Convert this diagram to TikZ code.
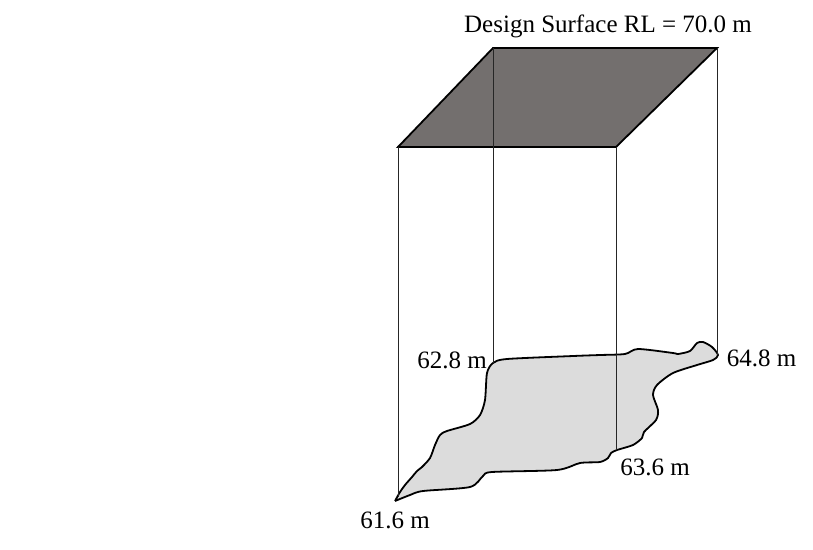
\documentclass[tikz,border=0pt]{standalone}
\usepackage{fontspec}
\setmainfont{Liberation Serif}
\definecolor{surfacegray}{HTML}{736F6E}
\definecolor{groundgray}{HTML}{DCDCDC}
\tikzset{
    level/.style = {font=\fontsize{25}{28}\selectfont, inner sep=0pt},
    corner/.style = {line width=1pt, black!85}
}

\begin{document}
\begin{tikzpicture}[x = 1pt, y = -1pt]
    \useasboundingbox (0,0) rectangle (813,549);
    % design surface
    \coordinate (sa) at (398,147);
    \coordinate (sb) at (616,147);
    \coordinate (sc) at (717,48);
    \coordinate (sd) at (493,48);
    % ground corners
    \coordinate (ga) at (398,497);
    \coordinate (gb) at (616,450);
    \coordinate (gc) at (717,355);
    \coordinate (gd) at (493,363);
    \coordinate (tip) at (395,501);

    \draw[fill=surfacegray, line width=1.8pt] (sa) -- (sb) -- (sc) -- (sd) -- cycle;
    \draw[fill=groundgray, line width=1.8pt, line join=round] plot[smooth, tension=.45] coordinates {
        (tip) (400,492) (405,485) (412,477) (417,471) (422,467) (430,458) (435,445) (440,435) (447,431)
        (470,424) (480,415) (485,400) (487,373) (493,363) (507,359) (573,356)
        (600,355) (625,354) (638,349) (673,353) (678,354) (690,351) (697,343) (703,342) (712,347)
        (718,355) (713,360) (697,365) (673,373) (657,385) (653,395) (658,410) (656,420) (644,432)
        (642,438) (633,445) (617,450) (611,453) (608,458) (600,462) (580,463) (557,470) (492,472)
        (483,476) (470,487) (423,491) (410,495) (tip)
    };
    \foreach \t/\b in {sa/ga, sb/gb, sc/gc, sd/gd}
        \draw[corner] (\t) -- (\b);

    \node[level] (design) at (608,26) {Design Surface RL = 70.0 m};
    \node[level] (rla) at (395,520) {61.6 m};
    \node[level] (rlb) at (655,467) {63.6 m};
    \node[level] (rlc) at (761.5,358) {64.8 m};
    \node[level] (rld) at (452,360) {62.8 m};
\end{tikzpicture}
\end{document}
